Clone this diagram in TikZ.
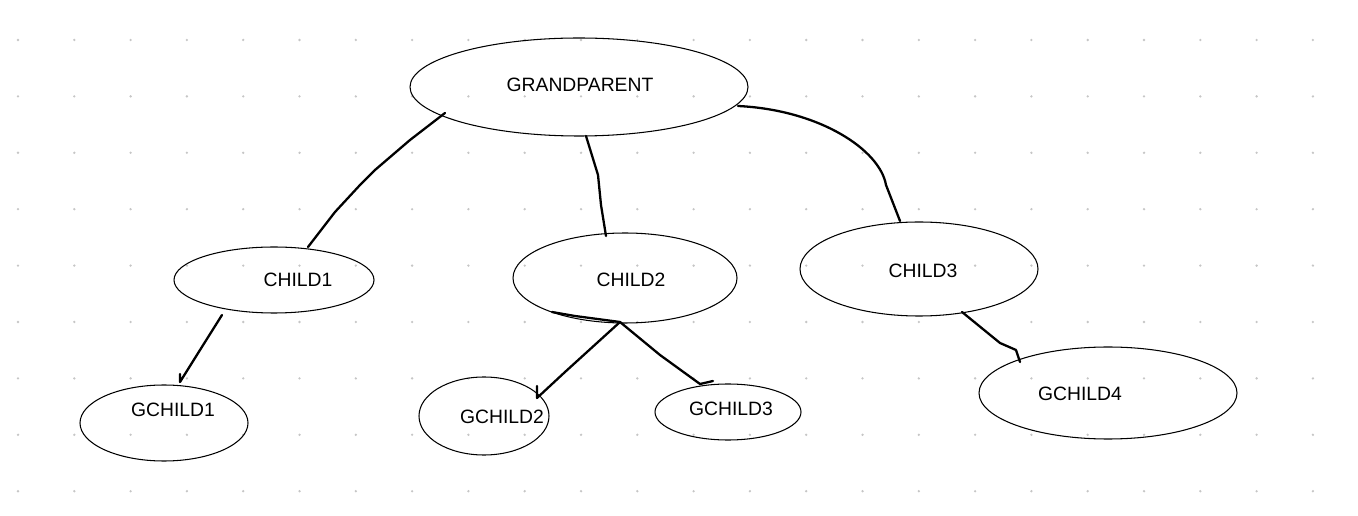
\documentclass[tikz,border=0pt]{standalone}
\usepackage{fontspec}
\setmainfont{Liberation Sans}
\usetikzlibrary{shapes.geometric}
\begin{document}
\begin{tikzpicture}[x=0.02cm,y=-0.02cm,
  el/.style={ellipse,draw,line width=0.6pt,inner sep=0pt},
  tx/.style={font=\fontsize{11}{13}\selectfont},
  con/.style={line width=1.3pt,line cap=round,line join=round}]
\useasboundingbox (0,0) rectangle (1358,516);
\foreach \i in {0,...,23}{\foreach \j in {0,...,8}{
  \fill[gray!45] (18+56.3*\i,40+56.4*\j) circle (1.3);}}
\node[el,minimum width=338*0.02cm,minimum height=98*0.02cm] (gp) at (579,87) {};
\node[el,minimum width=200*0.02cm,minimum height=66*0.02cm] (c1) at (274,280) {};
\node[el,minimum width=224*0.02cm,minimum height=90*0.02cm] (c2) at (625,278) {};
\node[el,minimum width=238*0.02cm,minimum height=94*0.02cm] (c3) at (919,269) {};
\node[el,minimum width=168*0.02cm,minimum height=76*0.02cm] (g1) at (164,423) {};
\node[el,minimum width=130*0.02cm,minimum height=78*0.02cm] (g2) at (484,416) {};
\node[el,minimum width=146*0.02cm,minimum height=56*0.02cm] (g3) at (728,412) {};
\node[el,minimum width=258*0.02cm,minimum height=92*0.02cm] (g4) at (1108,393) {};
\node[tx] (tgp) at (580,85) {GRANDPARENT};
\node[tx] (tc1) at (298,280) {CHILD1};
\node[tx] (tc2) at (631,280) {CHILD2};
\node[tx] (tc3) at (923,271) {CHILD3};
\node[tx] (tg1) at (173,410) {GCHILD1};
\node[tx] (tg2) at (502,417) {GCHILD2};
\node[tx] (tg3) at (731,409) {GCHILD3};
\node[tx] (tg4) at (1080,394) {GCHILD4};
\coordinate (a1) at (445,113); \coordinate (a2) at (308,247);
\coordinate (b1) at (586,136); \coordinate (b2) at (606,236);
\coordinate (d1) at (738,106); \coordinate (d2) at (900,221);
\coordinate (e1) at (222,315); \coordinate (e2) at (180,382);
\coordinate (f0) at (552,312); \coordinate (f1) at (620,322);
\coordinate (f2) at (537,398); \coordinate (f3) at (700,384);
\coordinate (h1) at (962,312); \coordinate (h2) at (1020,362);
\draw[con] (a1) -- (410,140) -- (375,170) -- (360,185) -- (335,212) -- (a2);
\draw[con] (b1) -- (598,175) -- (601,205) -- (b2);
\draw[con] (d1) .. controls (820,110) and (880,150) .. (886,185) -- (d2);
\draw[con] (e1) -- (200,350) -- (e2) -- (180,374);
\draw[con] (f0) -- (575,316) -- (f1) -- (565,372) -- (f2) -- (537,386);
\draw[con] (f1) -- (660,355) -- (f3) -- (713,381);
\draw[con] (h1) -- (1000,343) -- (1016,350) -- (h2);
\end{tikzpicture}
\end{document}
